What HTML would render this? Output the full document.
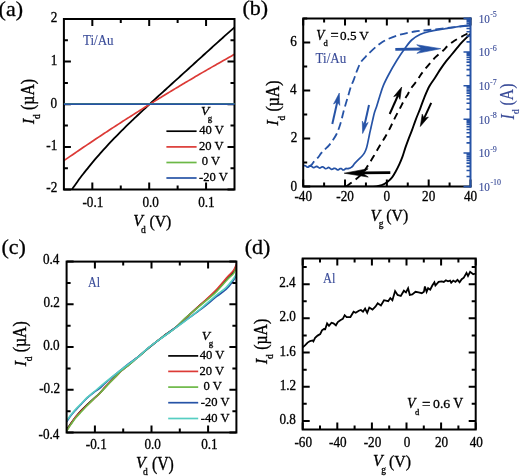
<!DOCTYPE html>
<html><head><meta charset="utf-8"><style>
html,body{margin:0;padding:0;background:#fff;overflow:hidden;}
svg{display:block;filter:blur(0.4px);}
text{font-family:'Liberation Serif','Times New Roman',serif;}
</style></head><body>
<svg width="520" height="476" viewBox="0 0 520 476">
<rect width="520" height="476" fill="#fff"/>
<defs>
<clipPath id="cA"><rect x="63.9" y="19" width="170.6" height="170.5"/></clipPath>
<clipPath id="cB"><rect x="303.2" y="18.4" width="167.3" height="168.2"/></clipPath>
<clipPath id="cC"><rect x="66.6" y="261.6" width="169.8" height="170.9"/></clipPath>
<clipPath id="cD"><rect x="302.7" y="258.5" width="173" height="171"/></clipPath>
</defs>
<path d="M71.71,189.72 C72.66,188.37 73.61,186.99 74.57,185.65 C75.52,184.31 76.47,182.99 77.42,181.68 C78.37,180.39 79.32,179.10 80.28,177.83 C81.23,176.56 82.18,175.31 83.14,174.07 C84.08,172.84 85.04,171.62 85.99,170.41 C86.94,169.21 87.89,168.02 88.85,166.84 C89.80,165.67 90.75,164.51 91.70,163.35 C92.65,162.21 93.60,161.07 94.56,159.95 C95.51,158.83 96.46,157.72 97.42,156.62 C98.36,155.52 99.32,154.44 100.27,153.36 C101.22,152.28 102.17,151.22 103.13,150.16 C104.08,149.11 105.03,148.07 105.98,147.03 C106.93,146.00 107.88,144.97 108.84,143.95 C109.79,142.94 110.74,141.93 111.69,140.93 C112.64,139.93 113.60,138.94 114.55,137.96 C115.50,136.97 116.45,136.00 117.41,135.03 C118.36,134.06 119.31,133.10 120.26,132.14 C121.21,131.19 122.17,130.24 123.12,129.29 C124.07,128.35 125.02,127.41 125.97,126.48 C126.93,125.55 127.88,124.62 128.83,123.69 C129.78,122.77 130.73,121.85 131.69,120.94 C132.64,120.03 133.59,119.12 134.54,118.21 C135.49,117.31 136.45,116.41 137.40,115.51 C138.35,114.61 139.30,113.71 140.25,112.82 C141.21,111.93 142.16,111.04 143.11,110.15 C144.06,109.27 145.01,108.38 145.97,107.50 C146.92,106.62 147.87,105.74 148.82,104.86 C149.77,103.99 150.73,103.11 151.68,102.24 C152.63,101.36 153.58,100.49 154.53,99.62 C155.49,98.75 156.44,97.88 157.39,97.01 C158.34,96.14 159.29,95.27 160.25,94.41 C161.20,93.54 162.15,92.67 163.10,91.81 C164.05,90.94 165.01,90.08 165.96,89.21 C166.91,88.35 167.86,87.48 168.81,86.62 C169.77,85.76 170.72,84.89 171.67,84.03 C172.62,83.17 173.57,82.30 174.53,81.44 C175.48,80.58 176.43,79.71 177.38,78.85 C178.33,77.99 179.29,77.12 180.24,76.26 C181.19,75.39 182.14,74.53 183.09,73.67 C184.05,72.80 185.00,71.94 185.95,71.07 C186.90,70.21 187.85,69.35 188.81,68.48 C189.76,67.62 190.71,66.75 191.66,65.89 C192.61,65.02 193.56,64.16 194.52,63.29 C195.47,62.43 196.42,61.56 197.37,60.70 C198.32,59.83 199.28,58.97 200.23,58.10 C201.18,57.24 202.13,56.37 203.08,55.51 C204.04,54.64 204.99,53.78 205.94,52.91 C206.89,52.05 207.84,51.19 208.80,50.32 C209.75,49.46 210.70,48.60 211.65,47.74 C212.60,46.88 213.56,46.02 214.51,45.16 C215.46,44.30 216.41,43.44 217.36,42.58 C218.32,41.72 219.27,40.87 220.22,40.02 C221.17,39.16 222.12,38.31 223.08,37.46 C224.03,36.61 224.98,35.76 225.93,34.91 C226.88,34.07 227.84,33.23 228.79,32.38 C229.74,31.54 230.69,30.70 231.64,29.87 C232.60,29.03 233.55,28.20 234.50,27.37" fill="none" stroke="#000" stroke-width="1.8" clip-path="url(#cA)"/>
<path d="M63.90,160.64 C64.86,159.97 65.83,159.31 66.79,158.65 C67.76,157.98 68.72,157.32 69.68,156.66 C70.65,156.00 71.61,155.34 72.57,154.68 C73.54,154.02 74.50,153.36 75.47,152.70 C76.43,152.04 77.39,151.39 78.36,150.73 C79.32,150.08 80.29,149.43 81.25,148.77 C82.21,148.12 83.18,147.47 84.14,146.82 C85.10,146.17 86.07,145.52 87.03,144.87 C88.00,144.22 88.96,143.57 89.92,142.93 C90.89,142.28 91.85,141.64 92.82,140.99 C93.78,140.35 94.74,139.71 95.71,139.07 C96.67,138.42 97.63,137.78 98.60,137.14 C99.56,136.51 100.53,135.87 101.49,135.23 C102.45,134.59 103.42,133.96 104.38,133.32 C105.34,132.69 106.31,132.05 107.27,131.42 C108.24,130.79 109.20,130.16 110.16,129.52 C111.13,128.89 112.09,128.27 113.06,127.64 C114.02,127.01 114.98,126.38 115.95,125.75 C116.91,125.13 117.87,124.50 118.84,123.88 C119.80,123.26 120.77,122.63 121.73,122.01 C122.69,121.39 123.66,120.77 124.62,120.15 C125.59,119.53 126.55,118.91 127.51,118.29 C128.48,117.68 129.44,117.06 130.41,116.45 C131.37,115.83 132.33,115.22 133.30,114.60 C134.26,113.99 135.22,113.38 136.19,112.77 C137.15,112.16 138.12,111.55 139.08,110.94 C140.04,110.33 141.01,109.72 141.97,109.12 C142.93,108.51 143.90,107.91 144.86,107.30 C145.83,106.70 146.79,106.10 147.75,105.49 C148.72,104.89 149.68,104.29 150.65,103.69 C151.61,103.09 152.57,102.49 153.54,101.90 C154.50,101.30 155.46,100.70 156.43,100.11 C157.39,99.51 158.36,98.92 159.32,98.32 C160.28,97.73 161.25,97.14 162.21,96.55 C163.18,95.96 164.14,95.37 165.10,94.78 C166.07,94.19 167.03,93.60 167.99,93.02 C168.96,92.43 169.92,91.85 170.89,91.26 C171.85,90.68 172.81,90.09 173.78,89.51 C174.74,88.93 175.71,88.35 176.67,87.77 C177.63,87.19 178.60,86.61 179.56,86.03 C180.52,85.46 181.49,84.88 182.45,84.30 C183.42,83.73 184.38,83.16 185.34,82.58 C186.31,82.01 187.27,81.44 188.24,80.87 C189.20,80.30 190.16,79.73 191.13,79.16 C192.09,78.59 193.05,78.02 194.02,77.45 C194.98,76.89 195.95,76.32 196.91,75.76 C197.87,75.19 198.84,74.63 199.80,74.07 C200.77,73.51 201.73,72.95 202.69,72.39 C203.66,71.83 204.62,71.27 205.58,70.71 C206.55,70.15 207.51,69.60 208.48,69.04 C209.44,68.48 210.40,67.93 211.37,67.38 C212.33,66.82 213.30,66.27 214.26,65.72 C215.22,65.17 216.19,64.62 217.15,64.07 C218.11,63.52 219.08,62.97 220.04,62.43 C221.01,61.88 221.97,61.34 222.93,60.79 C223.90,60.25 224.86,59.70 225.83,59.16 C226.79,58.62 227.75,58.08 228.72,57.54 C229.68,57.00 230.64,56.46 231.61,55.92 C232.57,55.38 233.54,54.85 234.50,54.31" fill="none" stroke="#dc3a36" stroke-width="1.7" clip-path="url(#cA)"/>
<rect x="63.9" y="19" width="170.6" height="170.5" fill="none" stroke="#000" stroke-width="2.0"/>
<path d="M92.33,189.5v-7.0M92.33,19v7.0M149.2,189.5v-7.0M149.2,19v7.0M206.07,189.5v-7.0M206.07,19v7.0M120.77,189.5v-4.0M120.77,19v4.0M177.63,189.5v-4.0M177.63,19v4.0" stroke="#000" stroke-width="2.0" fill="none"/>
<path d="M63.9,189.5h7.0M234.5,189.5h-7.0M63.9,146.88h7.0M234.5,146.88h-7.0M63.9,104.25h7.0M234.5,104.25h-7.0M63.9,61.62h7.0M234.5,61.62h-7.0M63.9,19h7.0M234.5,19h-7.0M63.9,168.19h4.0M234.5,168.19h-4.0M63.9,125.56h4.0M234.5,125.56h-4.0M63.9,82.94h4.0M234.5,82.94h-4.0M63.9,40.31h4.0M234.5,40.31h-4.0" stroke="#000" stroke-width="2.0" fill="none"/>
<path d="M63.9,103.55 L234.5,103.55" fill="none" stroke="#6cb846" stroke-width="1.3" stroke-linejoin="round"/>
<path d="M63.9,104.15 L234.5,104.15" fill="none" stroke="#2653a6" stroke-width="1.7" stroke-linejoin="round"/>
<path d="M166.4,131.2 L196.6,131.2" fill="none" stroke="#000" stroke-width="1.7" stroke-linejoin="round"/>
<path d="M166.4,146.9 L196.6,146.9" fill="none" stroke="#dc3a36" stroke-width="1.7" stroke-linejoin="round"/>
<path d="M166.4,162.5 L196.6,162.5" fill="none" stroke="#6cb846" stroke-width="1.7" stroke-linejoin="round"/>
<path d="M166.4,178 L196.6,178" fill="none" stroke="#2653a6" stroke-width="1.7" stroke-linejoin="round"/>
<path d="M66.60,429.54 C68.07,427.44 69.49,425.34 71.00,423.23 C72.55,421.08 74.08,418.90 75.80,416.77 C77.60,414.54 79.62,412.25 81.60,410.13 C83.52,408.07 85.51,406.12 87.50,404.22 C89.45,402.35 91.43,400.59 93.40,398.81 C95.36,397.04 97.36,395.48 99.30,393.57 C101.40,391.50 103.14,389.29 105.50,386.79 C108.52,383.59 113.09,379.00 116.00,376.01 C118.07,373.89 119.47,372.16 121.30,370.57 C122.98,369.11 124.49,368.31 126.50,366.74 C129.42,364.44 133.38,361.00 137.00,357.95 C140.90,354.67 144.85,351.20 149.10,347.68 C153.74,343.85 159.18,339.33 163.80,335.85 C167.74,332.89 171.41,330.87 175.00,327.96 C178.69,324.98 181.72,321.70 185.60,318.16 C190.27,313.89 195.91,308.77 201.10,304.16 C206.27,299.56 212.10,295.07 216.70,290.51 C220.77,286.47 224.39,281.89 227.50,278.37 C229.89,275.67 232.24,273.60 233.80,271.20 C235.11,269.20 235.67,267.18 236.60,265.17" fill="none" stroke="#000" stroke-width="1.6" stroke-linejoin="round" clip-path="url(#cC)"/>
<path d="M66.60,430.72 C68.07,428.43 69.49,426.15 71.00,423.86 C72.55,421.51 74.04,419.01 75.80,416.78 C77.57,414.55 79.62,412.47 81.60,410.46 C83.53,408.50 85.53,406.70 87.50,404.85 C89.46,403.00 91.43,401.17 93.40,399.34 C95.37,397.50 97.36,395.86 99.30,393.85 C101.40,391.67 103.10,389.21 105.50,386.66 C108.48,383.50 113.11,379.36 116.00,376.47 C118.08,374.39 119.50,372.72 121.30,371.03 C123.01,369.42 124.46,368.29 126.50,366.56 C129.38,364.11 133.38,360.82 137.00,357.76 C140.90,354.47 144.83,350.92 149.10,347.45 C153.72,343.71 159.20,339.53 163.80,336.13 C167.76,333.19 171.41,331.08 175.00,328.16 C178.68,325.16 181.73,321.91 185.60,318.35 C190.27,314.06 195.95,309.01 201.10,304.21 C206.32,299.34 212.08,294.17 216.70,289.31 C220.74,285.06 224.36,280.35 227.50,276.82 C229.86,274.17 232.24,272.32 233.80,269.95 C235.13,267.91 235.67,265.77 236.60,263.68" fill="none" stroke="#dc3a36" stroke-width="1.6" stroke-linejoin="round" clip-path="url(#cC)"/>
<path d="M66.60,431.12 C68.07,428.88 69.48,426.62 71.00,424.41 C72.54,422.17 74.05,419.89 75.80,417.76 C77.58,415.59 79.65,413.58 81.60,411.50 C83.55,409.42 85.52,407.32 87.50,405.28 C89.45,403.27 91.42,401.29 93.40,399.36 C95.35,397.46 97.33,395.74 99.30,393.79 C101.37,391.75 103.16,389.78 105.50,387.34 C108.54,384.17 113.09,379.42 116.00,376.38 C118.07,374.22 119.48,372.47 121.30,370.84 C122.99,369.33 124.49,368.47 126.50,366.85 C129.41,364.50 133.38,361.04 137.00,357.98 C140.89,354.69 144.84,351.21 149.10,347.74 C153.73,343.96 159.20,339.65 163.80,336.18 C167.75,333.20 171.42,331.10 175.00,328.10 C178.70,324.98 181.65,321.31 185.60,317.76 C190.20,313.61 195.95,309.27 201.10,304.90 C206.32,300.47 212.10,295.89 216.70,291.37 C220.77,287.37 224.34,282.65 227.50,279.34 C229.84,276.88 232.25,275.32 233.80,273.11 C235.14,271.21 235.67,269.12 236.60,267.12" fill="none" stroke="#6cb846" stroke-width="1.6" stroke-linejoin="round" clip-path="url(#cC)"/>
<path d="M66.60,421.92 C67.73,420.21 68.66,418.58 70.00,416.79 C71.62,414.62 73.84,412.14 75.80,409.93 C77.71,407.79 79.65,405.77 81.60,403.71 C83.55,401.65 85.48,399.45 87.50,397.59 C89.42,395.82 91.41,394.28 93.40,392.76 C95.34,391.28 97.36,390.13 99.30,388.56 C101.39,386.88 103.15,385.00 105.50,382.92 C108.53,380.24 112.48,376.84 116.00,373.89 C119.48,370.97 122.96,368.04 126.50,365.31 C129.96,362.63 133.43,360.44 137.00,357.63 C140.95,354.51 144.82,350.77 149.10,347.34 C153.71,343.65 159.21,339.64 163.80,336.27 C167.77,333.35 171.33,330.91 175.00,328.22 C178.59,325.59 181.72,323.15 185.60,320.30 C190.26,316.88 195.98,313.08 201.10,309.16 C206.35,305.14 212.14,300.05 216.70,296.46 C220.17,293.72 223.32,291.88 226.00,289.37 C228.41,287.10 230.56,284.45 232.20,282.21 C233.50,280.43 234.53,278.66 235.30,277.15 C235.88,276.02 236.17,275.10 236.60,274.07" fill="none" stroke="#2653a6" stroke-width="1.6" stroke-linejoin="round" clip-path="url(#cC)"/>
<path d="M66.60,420.89 C67.73,419.26 68.67,417.74 70.00,416.01 C71.64,413.87 73.82,411.28 75.80,409.11 C77.69,407.05 79.66,405.25 81.60,403.29 C83.56,401.29 85.48,399.07 87.50,397.21 C89.42,395.46 91.44,394.05 93.40,392.41 C95.38,390.76 97.30,389.04 99.30,387.36 C101.33,385.64 103.16,384.14 105.50,382.23 C108.53,379.76 112.49,376.57 116.00,373.79 C119.49,371.03 122.98,368.27 126.50,365.60 C129.98,362.97 133.44,360.75 137.00,357.88 C140.96,354.69 144.79,350.69 149.10,347.23 C153.68,343.55 159.23,339.81 163.80,336.48 C167.79,333.57 171.32,331.01 175.00,328.32 C178.58,325.70 181.76,323.45 185.60,320.53 C190.30,316.96 195.98,312.62 201.10,308.40 C206.35,304.07 212.12,298.62 216.70,294.85 C220.16,292.01 223.33,290.17 226.00,287.61 C228.41,285.29 230.52,282.43 232.20,280.29 C233.45,278.70 234.54,277.39 235.30,276.00 C235.92,274.87 236.17,273.79 236.60,272.69" fill="none" stroke="#56cec2" stroke-width="1.6" stroke-linejoin="round" clip-path="url(#cC)"/>
<rect x="66.6" y="261.6" width="169.8" height="170.9" fill="none" stroke="#000" stroke-width="2.0"/>
<path d="M94.9,432.5v-7.0M94.9,261.6v7.0M151.5,432.5v-7.0M151.5,261.6v7.0M208.1,432.5v-7.0M208.1,261.6v7.0M123.2,432.5v-4.0M123.2,261.6v4.0M179.8,432.5v-4.0M179.8,261.6v4.0" stroke="#000" stroke-width="2.0" fill="none"/>
<path d="M66.6,432.5h7.0M236.4,432.5h-7.0M66.6,389.77h7.0M236.4,389.77h-7.0M66.6,347.05h7.0M236.4,347.05h-7.0M66.6,304.32h7.0M236.4,304.32h-7.0M66.6,261.6h7.0M236.4,261.6h-7.0M66.6,411.14h4.0M236.4,411.14h-4.0M66.6,368.41h4.0M236.4,368.41h-4.0M66.6,325.69h4.0M236.4,325.69h-4.0M66.6,282.96h4.0M236.4,282.96h-4.0" stroke="#000" stroke-width="2.0" fill="none"/>
<path d="M168.2,355.9 L198.2,355.9" fill="none" stroke="#000" stroke-width="1.7" stroke-linejoin="round"/>
<path d="M168.2,371.4 L198.2,371.4" fill="none" stroke="#dc3a36" stroke-width="1.7" stroke-linejoin="round"/>
<path d="M168.2,387.1 L198.2,387.1" fill="none" stroke="#6cb846" stroke-width="1.7" stroke-linejoin="round"/>
<path d="M168.2,402.7 L198.2,402.7" fill="none" stroke="#2653a6" stroke-width="1.7" stroke-linejoin="round"/>
<path d="M168.2,418.5 L198.2,418.5" fill="none" stroke="#56cec2" stroke-width="1.7" stroke-linejoin="round"/>
<path d="M302.7,347.3 L305,345.4 L307.6,342.6 L310.1,341 L312.6,340.4 L313.4,341.4 L315.1,337.9 L317.6,335.6 L320.2,334.1 L322,330.3 L323.9,329 L325.2,329.3 L327.1,323.4 L329,325.9 L331.5,322.7 L333.4,323.4 L335.9,325.3 L337.8,322.1 L340.3,320.2 L342.8,318.9 L344.7,315.2 L346.6,317.1 L350.4,317 L353.6,311.7 L355.7,312.8 L358.8,310.7 L360.9,310 L363,311.7 L365.1,308.6 L367.2,312.8 L369.3,307.5 L372.5,309.6 L375.6,306.5 L377.7,303.3 L380.9,305.4 L384,300.2 L388.2,301.2 L390.3,298.1 L392.4,300.2 L395.1,291.1 L397.6,294.9 L400.8,296 L403.9,290.7 L406,292.4 L408.1,288.2 L409.8,294.9 L412.3,294.5 L415.5,291.8 L418.6,292.4 L421.8,293.2 L423.9,291.8 L424.9,286.5 L426.6,291.8 L428.1,288.2 L430.2,289.7 L432.3,285.5 L434.4,282.3 L435.4,285.5 L438.6,281.9 L441.7,281.3 L443.8,281.9 L445.9,280.2 L448,281.3 L450.1,280.6 L451.2,282.7 L453.3,280.6 L455.4,281.9 L457.5,279.8 L459.6,282.3 L461.7,279.2 L463.8,277.7 L466.5,272.9 L468,276 L470.1,271.8 L473.2,274.3 L475.7,273.5" fill="none" stroke="#000" stroke-width="1.8" stroke-linejoin="miter" stroke-miterlimit="3" clip-path="url(#cD)"/>
<rect x="302.7" y="258.5" width="173" height="171" fill="none" stroke="#000" stroke-width="2.0"/>
<path d="M302.7,429.5v-7.0M302.7,258.5v7.0M337.3,429.5v-7.0M337.3,258.5v7.0M371.9,429.5v-7.0M371.9,258.5v7.0M406.5,429.5v-7.0M406.5,258.5v7.0M441.1,429.5v-7.0M441.1,258.5v7.0M475.7,429.5v-7.0M475.7,258.5v7.0M320,429.5v-4.0M320,258.5v4.0M354.6,429.5v-4.0M354.6,258.5v4.0M389.2,429.5v-4.0M389.2,258.5v4.0M423.8,429.5v-4.0M423.8,258.5v4.0M458.4,429.5v-4.0M458.4,258.5v4.0" stroke="#000" stroke-width="2.0" fill="none"/>
<path d="M302.7,420.95h7.0M475.7,420.95h-7.0M302.7,386.75h7.0M475.7,386.75h-7.0M302.7,352.55h7.0M475.7,352.55h-7.0M302.7,318.35h7.0M475.7,318.35h-7.0M302.7,284.15h7.0M475.7,284.15h-7.0M302.7,403.85h4.0M475.7,403.85h-4.0M302.7,369.65h4.0M475.7,369.65h-4.0M302.7,335.45h4.0M475.7,335.45h-4.0M302.7,301.25h4.0M475.7,301.25h-4.0M302.7,267.05h4.0M475.7,267.05h-4.0" stroke="#000" stroke-width="2.0" fill="none"/>
<path d="M303.2,166.17 L303.95,165.65 L304.7,165.6 L305.45,165.73 L306.2,166.42 L306.95,166.95 L307.7,167.15 L308.45,167.08 L309.2,166.49 L309.95,166.1 L310.7,165.85 L311.45,166.12 L312.2,166.78 L312.95,167.45 L313.7,167.55 L314.45,167.4 L315.2,167.02 L315.95,166.62 L316.7,166.35 L317.45,166.58 L318.2,167.3 L318.95,167.65 L319.7,168.12 L320.45,167.83 L321.2,167.35 L321.95,166.9 L322.7,166.81 L323.45,167.24 L324.2,167.7 L324.95,168.41 L325.7,168.73 L326.45,168.53 L327.2,168.13 L327.95,167.57 L328.7,167.43 L329.45,167.77 L330.2,168.5 L330.95,169.05 L331.7,169.33 L332.45,169.26 L333.2,168.78 L333.95,168.3 L334.7,168.29 L335.45,168.54 L336.2,169 L336.95,169.65 L337.7,169.89 L338.45,169.79 L339.2,169.27 L339.95,168.67 L340.7,168.65 L341.45,168.7 L342.2,169.34 L342.95,169.99 L343.7,169.95 L344.45,169.7 L345.2,168.94 L345.95,168.44 L346.7,168.57 L347.45,168.49 L348.2,168.61 L348.95,168.39 L349.7,168.27 L350.45,167.85 L351.2,167.34 L351.20,167.34 C351.63,166.99 352.04,166.77 352.50,166.30 C353.18,165.60 353.83,164.39 354.70,163.40 C355.74,162.21 357.17,160.93 358.40,159.70 C359.63,158.47 361.06,157.19 362.10,156.00 C362.97,155.01 363.63,154.26 364.30,153.10 C365.13,151.66 365.90,149.71 366.50,147.90 C367.11,146.04 367.44,144.16 367.90,142.10 C368.41,139.79 368.88,137.15 369.40,134.70 C369.91,132.28 370.45,129.96 371.00,127.50 C371.58,124.90 372.20,122.08 372.80,119.50 C373.36,117.09 373.83,114.76 374.50,112.50 C375.14,110.33 375.94,108.52 376.70,106.20 C377.63,103.37 378.54,100.00 379.60,96.70 C380.76,93.09 381.87,89.12 383.40,85.40 C384.98,81.56 386.92,77.90 389.00,74.00 C391.28,69.72 394.01,64.99 396.60,60.80 C399.05,56.85 401.51,53.05 404.10,49.50 C406.55,46.14 408.89,42.57 411.70,40.00 C414.24,37.68 417.04,35.92 420.00,34.50 C422.94,33.09 425.89,32.36 429.40,31.50 C433.70,30.45 439.37,29.78 444.00,29.00 C448.20,28.29 451.81,27.64 456.00,27.00 C460.60,26.30 465.67,25.67 470.50,25.00" fill="none" stroke="#2653a6" stroke-width="1.7" stroke-linejoin="round" clip-path="url(#cB)"/>
<path d="M308.50,166.50 C309.43,166.00 310.45,165.71 311.30,165.00 C312.28,164.18 312.91,162.81 313.90,161.70 C315.01,160.45 316.49,159.30 317.70,157.90 C319.00,156.39 320.10,154.41 321.40,152.90 C322.61,151.50 323.93,150.37 325.20,149.10 C326.47,147.83 327.78,146.70 329.00,145.30 C330.32,143.79 331.58,142.10 332.80,140.30 C334.12,138.35 335.54,136.14 336.60,134.00 C337.62,131.94 338.31,129.96 339.10,127.70 C339.99,125.16 340.84,122.28 341.60,119.50 C342.37,116.68 342.95,113.70 343.70,110.90 C344.42,108.20 345.22,105.63 346.00,103.00 C346.78,100.36 347.62,97.74 348.40,95.10 C349.18,92.47 349.79,89.80 350.70,87.20 C351.62,84.57 352.87,82.08 353.90,79.40 C354.98,76.59 355.83,73.57 357.00,70.70 C358.19,67.77 359.27,64.63 361.00,62.00 C362.71,59.40 365.01,57.36 367.30,55.00 C369.83,52.40 372.95,49.34 375.60,47.10 C377.81,45.23 379.83,43.70 382.00,42.30 C384.04,40.99 385.75,40.00 388.20,38.90 C391.46,37.44 395.81,35.90 400.00,34.70 C404.59,33.39 409.81,32.29 414.70,31.50 C419.48,30.73 423.67,30.57 429.00,30.00 C435.76,29.28 444.75,28.29 452.00,27.50 C458.50,26.80 464.33,26.17 470.50,25.50" fill="none" stroke="#2653a6" stroke-width="1.8" stroke-linejoin="round" stroke-dasharray="8,4" clip-path="url(#cB)"/>
<path d="M345.90,186.60 C348.83,184.50 351.95,182.50 354.70,180.30 C357.33,178.19 359.90,176.15 362.10,173.70 C364.30,171.25 366.01,168.45 367.90,165.60 C369.91,162.57 371.86,159.27 373.80,156.00 C375.79,152.64 377.70,149.05 379.70,145.70 C381.64,142.45 383.74,139.41 385.60,136.20 C387.44,133.01 389.37,129.36 390.80,126.50 C391.91,124.28 392.57,122.59 393.60,120.50 C394.75,118.15 396.17,115.44 397.40,113.10 C398.53,110.96 399.62,109.06 400.70,107.00 C401.79,104.92 402.73,102.82 403.90,100.70 C405.15,98.45 406.71,96.12 408.00,93.90 C409.21,91.82 410.03,89.84 411.40,87.80 C412.94,85.51 415.34,83.10 416.90,80.90 C418.23,79.03 419.08,77.28 420.30,75.50 C421.57,73.65 422.88,71.93 424.40,70.00 C426.16,67.76 428.37,65.13 430.30,62.90 C432.07,60.85 433.54,59.01 435.50,57.10 C437.69,54.97 440.69,52.86 442.90,50.80 C444.83,49.00 446.21,47.15 448.10,45.50 C450.04,43.81 452.25,42.22 454.40,40.80 C456.49,39.43 458.43,38.41 460.80,37.10 C463.68,35.51 467.27,33.70 470.50,32.00" fill="none" stroke="#000" stroke-width="1.9" stroke-linejoin="round" stroke-dasharray="7,5" clip-path="url(#cB)"/>
<path d="M303.20,186.60 C322.13,186.60 348.08,186.60 360.00,186.60 C365.48,186.60 369.10,186.67 372.00,186.60 C373.66,186.56 374.47,186.58 375.90,186.40 C377.67,186.18 379.90,185.93 381.80,185.20 C383.81,184.43 385.86,183.13 387.60,181.80 C389.28,180.52 390.77,179.07 392.10,177.40 C393.49,175.65 394.53,173.60 395.70,171.50 C396.97,169.20 398.27,166.58 399.40,164.10 C400.50,161.68 401.45,159.37 402.40,156.80 C403.43,154.00 404.28,150.85 405.30,147.90 C406.32,144.95 407.39,142.03 408.50,139.10 C409.62,136.13 410.86,133.26 412.00,130.20 C413.20,127.00 414.20,123.74 415.50,120.30 C416.94,116.48 418.78,112.22 420.30,108.30 C421.74,104.56 422.89,100.97 424.40,97.30 C425.95,93.53 427.57,89.47 429.50,86.00 C431.30,82.77 433.59,80.05 435.50,77.10 C437.35,74.25 439.00,71.30 440.80,68.60 C442.50,66.05 444.21,63.61 446.00,61.30 C447.72,59.09 449.55,57.10 451.30,55.00 C453.05,52.90 454.75,50.80 456.50,48.70 C458.25,46.60 459.99,44.37 461.80,42.40 C463.53,40.52 465.51,38.62 467.10,37.10 C468.34,35.91 469.37,35.03 470.50,34.00" fill="none" stroke="#000" stroke-width="1.9" stroke-linejoin="round" clip-path="url(#cB)"/>
<line x1="332.3" y1="124" x2="337.32" y2="101.78" stroke="#2653a6" stroke-width="2.0"/>
<path d="M339.3,93 L339.78,105.41 L337.32,101.78 L333.54,104 Z" fill="#2653a6" stroke="#2653a6" stroke-width="0.6" stroke-linejoin="miter"/>
<line x1="369" y1="105" x2="364.57" y2="124.72" stroke="#2653a6" stroke-width="2.0"/>
<path d="M362.6,133.5 L362.3,121.13 L364.57,124.72 L368.16,122.45 Z" fill="#2653a6" stroke="#2653a6" stroke-width="0.6" stroke-linejoin="miter"/>
<line x1="395.3" y1="49.4" x2="422.8" y2="48.98" stroke="#2653a6" stroke-width="2.8"/>
<path d="M440.8,48.7 L416.87,53.37 L422.8,48.98 L416.74,44.77 Z" fill="#2653a6" stroke="#2653a6" stroke-width="0.6" stroke-linejoin="miter"/>
<line x1="390.3" y1="172.6" x2="362.2" y2="172.97" stroke="#000" stroke-width="2.8"/>
<path d="M344.2,173.2 L368.14,168.69 L362.2,172.97 L368.25,177.09 Z" fill="#000" stroke="#000" stroke-width="0.6" stroke-linejoin="miter"/>
<line x1="389.7" y1="114" x2="398.04" y2="95.22" stroke="#000" stroke-width="2.0"/>
<path d="M401.7,87 L399.93,99.35 L398.04,95.22 L393.72,96.58 Z" fill="#000" stroke="#000" stroke-width="0.6" stroke-linejoin="miter"/>
<line x1="431.2" y1="102.8" x2="424.06" y2="118.32" stroke="#000" stroke-width="2.0"/>
<path d="M420.3,126.5 L422.23,114.18 L424.06,118.32 L428.4,117.02 Z" fill="#000" stroke="#000" stroke-width="0.6" stroke-linejoin="miter"/>
<path d="M470.5,186.6 H303.2 V18.4 H470.5" fill="none" stroke="#000" stroke-width="2.0" stroke-linecap="square"/>
<path d="M303.2,186.6v-7.0M303.2,18.4v7.0M345.02,186.6v-7.0M345.02,18.4v7.0M386.85,186.6v-7.0M386.85,18.4v7.0M428.68,186.6v-7.0M428.68,18.4v7.0M470.5,186.6v-7.0M470.5,18.4v7.0M324.11,186.6v-4.0M324.11,18.4v4.0M365.94,186.6v-4.0M365.94,18.4v4.0M407.76,186.6v-4.0M407.76,18.4v4.0M449.59,186.6v-4.0M449.59,18.4v4.0" stroke="#000" stroke-width="2.0" fill="none"/>
<path d="M303.2,186.6h7.0M303.2,138.54h7.0M303.2,90.49h7.0M303.2,42.43h7.0M303.2,162.57h4.0M303.2,114.51h4.0M303.2,66.46h4.0M303.2,18.4h4.0" stroke="#000" stroke-width="2.0" fill="none"/>
<path d="M470.5,186.6h-7M470.5,176.47h-4M470.5,170.55h-4M470.5,166.35h-4M470.5,163.09h-4M470.5,160.42h-4M470.5,158.17h-4M470.5,156.22h-4M470.5,154.5h-4M470.5,152.96h-7M470.5,142.83h-4M470.5,136.91h-4M470.5,132.71h-4M470.5,129.45h-4M470.5,126.78h-4M470.5,124.53h-4M470.5,122.58h-4M470.5,120.86h-4M470.5,119.32h-7M470.5,109.19h-4M470.5,103.27h-4M470.5,99.07h-4M470.5,95.81h-4M470.5,93.14h-4M470.5,90.89h-4M470.5,88.94h-4M470.5,87.22h-4M470.5,85.68h-7M470.5,75.55h-4M470.5,69.63h-4M470.5,65.43h-4M470.5,62.17h-4M470.5,59.5h-4M470.5,57.25h-4M470.5,55.3h-4M470.5,53.58h-4M470.5,52.04h-7M470.5,41.91h-4M470.5,35.99h-4M470.5,31.79h-4M470.5,28.53h-4M470.5,25.86h-4M470.5,23.61h-4M470.5,21.66h-4M470.5,19.94h-4M470.5,18.4h-7" stroke="#2653a6" stroke-width="1.6" fill="none"/>
<line x1="470.5" y1="17.4" x2="470.5" y2="187.6" stroke="#2653a6" stroke-width="2.0"/>
<text transform="translate(-1.4,15.62)" font-size="22" fill="#000" stroke="#000" stroke-width="0.3">(a)</text>
<text transform="translate(242.38,15.12)" font-size="22" fill="#000" stroke="#000" stroke-width="0.3">(b)</text>
<text transform="translate(1.4,253.93)" font-size="22" fill="#000" stroke="#000" stroke-width="0.3">(c)</text>
<text transform="translate(244.68,254.08)" font-size="22" fill="#000" stroke="#000" stroke-width="0.3">(d)</text>
<text transform="translate(133.18,225.93) scale(1,1.057)" font-size="15.8" fill="#000" stroke="#000" stroke-width="0.3" font-style="italic">V</text>
<text transform="translate(141.03,233.05)" font-size="9.5" fill="#000" stroke="#000" stroke-width="0.3">d</text>
<text transform="translate(149.45,226.5) scale(1,1.121)" font-size="15.8" fill="#000" stroke="#000" stroke-width="0.3">(V)</text>
<text transform="translate(370.57,220.62) scale(1,1.076)" font-size="15.8" fill="#000" stroke="#000" stroke-width="0.3" font-style="italic">V</text>
<text transform="translate(378.85,227.32)" font-size="9.5" fill="#000" stroke="#000" stroke-width="0.3">g</text>
<text transform="translate(386.35,221.12) scale(1,1.086)" font-size="15.8" fill="#000" stroke="#000" stroke-width="0.3">(V)</text>
<text transform="translate(135.9,468.18) scale(1,1.019)" font-size="15.8" fill="#000" stroke="#000" stroke-width="0.3" font-style="italic">V</text>
<text transform="translate(143.12,475.15)" font-size="9.5" fill="#000" stroke="#000" stroke-width="0.3">d</text>
<text transform="translate(151.95,469.98) scale(1,1.143)" font-size="15.8" fill="#000" stroke="#000" stroke-width="0.3">(V)</text>
<text transform="translate(372.88,465.93) scale(1,1.029)" font-size="15.8" fill="#000" stroke="#000" stroke-width="0.3" font-style="italic">V</text>
<text transform="translate(381.15,472.52)" font-size="9.5" fill="#000" stroke="#000" stroke-width="0.3">g</text>
<text transform="translate(389.05,466.8) scale(1,1.093)" font-size="15.8" fill="#000" stroke="#000" stroke-width="0.3">(V)</text>
<text transform="translate(33.5,123.88) rotate(-90) scale(1,1.122)" font-size="15.8" fill="#000" stroke="#000" stroke-width="0.3" font-style="italic">I</text>
<text transform="translate(39.7,118.92) rotate(-90)" font-size="9.5" fill="#000" stroke="#000" stroke-width="0.3">d</text>
<text transform="translate(33.6,109.95) rotate(-90) scale(1,1.136)" font-size="15.8" fill="#000" stroke="#000" stroke-width="0.3">(µA)</text>
<text transform="translate(278.4,125.57) rotate(-90) scale(1,1.122)" font-size="15.8" fill="#000" stroke="#000" stroke-width="0.3" font-style="italic">I</text>
<text transform="translate(284.6,120.62) rotate(-90)" font-size="9.5" fill="#000" stroke="#000" stroke-width="0.3">d</text>
<text transform="translate(278.5,111.55) rotate(-90) scale(1,1.136)" font-size="15.8" fill="#000" stroke="#000" stroke-width="0.3">(µA)</text>
<text transform="translate(25.9,366.27) rotate(-90) scale(1,1.122)" font-size="15.8" fill="#000" stroke="#000" stroke-width="0.3" font-style="italic">I</text>
<text transform="translate(32.1,361.33) rotate(-90)" font-size="9.5" fill="#000" stroke="#000" stroke-width="0.3">d</text>
<text transform="translate(26,352.25) rotate(-90) scale(1,1.136)" font-size="15.8" fill="#000" stroke="#000" stroke-width="0.3">(µA)</text>
<text transform="translate(266.7,363.98) rotate(-90) scale(1,1.122)" font-size="15.8" fill="#000" stroke="#000" stroke-width="0.3" font-style="italic">I</text>
<text transform="translate(272.9,359.02) rotate(-90)" font-size="9.5" fill="#000" stroke="#000" stroke-width="0.3">d</text>
<text transform="translate(266.8,349.85) rotate(-90) scale(1,1.136)" font-size="15.8" fill="#000" stroke="#000" stroke-width="0.3">(µA)</text>
<text transform="translate(513.75,119.53) rotate(-90) scale(1,1.161)" font-size="15.8" fill="#394b98" stroke="#394b98" stroke-width="0.12" font-style="italic">I</text>
<text transform="translate(519.1,114.12) rotate(-90)" font-size="9.5" fill="#394b98" stroke="#394b98" stroke-width="0.12">d</text>
<text transform="translate(513.3,105.5) rotate(-90) scale(1,1.136)" font-size="15.8" fill="#394b98" stroke="#394b98" stroke-width="0.12">(A)</text>
<text transform="translate(50.75,22.25) scale(1,1.080)" font-size="13.2" fill="#000" stroke="#000" stroke-width="0.3">2</text>
<text transform="translate(50.75,64.75) scale(1,1.080)" font-size="13.2" fill="#000" stroke="#000" stroke-width="0.3">1</text>
<text transform="translate(50.5,107.5) scale(1,1.080)" font-size="13.2" fill="#000" stroke="#000" stroke-width="0.3">0</text>
<text transform="translate(46.25,150) scale(1,1.080)" font-size="13.2" fill="#000" stroke="#000" stroke-width="0.3">-1</text>
<text transform="translate(46.35,192.1) scale(1,1.080)" font-size="13.2" fill="#000" stroke="#000" stroke-width="0.3">-2</text>
<text transform="translate(82.45,206.57) scale(1,1.080)" font-size="13.2" fill="#000" stroke="#000" stroke-width="0.3">-0.1</text>
<text transform="translate(142.45,206.57) scale(1,1.080)" font-size="13.2" fill="#000" stroke="#000" stroke-width="0.3">0.0</text>
<text transform="translate(198.18,206.57) scale(1,1.080)" font-size="13.2" fill="#000" stroke="#000" stroke-width="0.3">0.1</text>
<text transform="translate(290.35,45.68) scale(1,1.080)" font-size="13.2" fill="#000" stroke="#000" stroke-width="0.3">6</text>
<text transform="translate(290.1,93.61) scale(1,1.080)" font-size="13.2" fill="#000" stroke="#000" stroke-width="0.3">4</text>
<text transform="translate(290.85,141.79) scale(1,1.080)" font-size="13.2" fill="#000" stroke="#000" stroke-width="0.3">2</text>
<text transform="translate(290.6,190.7) scale(1,1.080)" font-size="13.2" fill="#000" stroke="#000" stroke-width="0.3">0</text>
<text transform="translate(294.45,201.4) scale(1,1.080)" font-size="13.2" fill="#000" stroke="#000" stroke-width="0.3">-40</text>
<text transform="translate(336.27,201.4) scale(1,1.080)" font-size="13.2" fill="#000" stroke="#000" stroke-width="0.3">-20</text>
<text transform="translate(383.6,201.4) scale(1,1.080)" font-size="13.2" fill="#000" stroke="#000" stroke-width="0.3">0</text>
<text transform="translate(422.05,201.4) scale(1,1.080)" font-size="13.2" fill="#000" stroke="#000" stroke-width="0.3">20</text>
<text transform="translate(464,201.4) scale(1,1.080)" font-size="13.2" fill="#000" stroke="#000" stroke-width="0.3">40</text>
<text transform="translate(43.45,307.45) scale(1,1.080)" font-size="13.2" fill="#000" stroke="#000" stroke-width="0.3">0.2</text>
<text transform="translate(43.2,350.18) scale(1,1.080)" font-size="13.2" fill="#000" stroke="#000" stroke-width="0.3">0.0</text>
<text transform="translate(39.2,392.9) scale(1,1.080)" font-size="13.2" fill="#000" stroke="#000" stroke-width="0.3">-0.2</text>
<text transform="translate(42.92,264.07) scale(1,1.080)" font-size="13.2" fill="#000" stroke="#000" stroke-width="0.3">0.4</text>
<text transform="translate(38.58,439.07) scale(1,1.080)" font-size="13.2" fill="#000" stroke="#000" stroke-width="0.3">-0.4</text>
<text transform="translate(85.85,449.05) scale(1,1.080)" font-size="13.2" fill="#000" stroke="#000" stroke-width="0.3">-0.1</text>
<text transform="translate(144.45,449.05) scale(1,1.080)" font-size="13.2" fill="#000" stroke="#000" stroke-width="0.3">0.0</text>
<text transform="translate(201.18,449.05) scale(1,1.080)" font-size="13.2" fill="#000" stroke="#000" stroke-width="0.3">0.1</text>
<text transform="translate(279.15,287.27) scale(1,1.080)" font-size="13.2" fill="#000" stroke="#000" stroke-width="0.3">2.4</text>
<text transform="translate(279.4,321.48) scale(1,1.080)" font-size="13.2" fill="#000" stroke="#000" stroke-width="0.3">2.0</text>
<text transform="translate(279.4,355.67) scale(1,1.080)" font-size="13.2" fill="#000" stroke="#000" stroke-width="0.3">1.6</text>
<text transform="translate(279.65,389.88) scale(1,1.080)" font-size="13.2" fill="#000" stroke="#000" stroke-width="0.3">1.2</text>
<text transform="translate(279.4,424.07) scale(1,1.080)" font-size="13.2" fill="#000" stroke="#000" stroke-width="0.3">0.8</text>
<text transform="translate(294.45,447) scale(1,1.080)" font-size="13.2" fill="#000" stroke="#000" stroke-width="0.3">-60</text>
<text transform="translate(329.05,447) scale(1,1.080)" font-size="13.2" fill="#000" stroke="#000" stroke-width="0.3">-40</text>
<text transform="translate(363.65,447) scale(1,1.080)" font-size="13.2" fill="#000" stroke="#000" stroke-width="0.3">-20</text>
<text transform="translate(403.75,447) scale(1,1.080)" font-size="13.2" fill="#000" stroke="#000" stroke-width="0.3">0</text>
<text transform="translate(434.98,447) scale(1,1.080)" font-size="13.2" fill="#000" stroke="#000" stroke-width="0.3">20</text>
<text transform="translate(469.7,447) scale(1,1.080)" font-size="13.2" fill="#000" stroke="#000" stroke-width="0.3">40</text>
<text transform="translate(478.77,190.85) scale(1,1.147)" font-size="11.2" fill="#394b98" stroke="#394b98" stroke-width="0.12">10</text>
<text transform="translate(490.4,185.42)" font-size="8" fill="#394b98" stroke="#394b98" stroke-width="0.12">-10</text>
<text transform="translate(478.77,157.21) scale(1,1.147)" font-size="11.2" fill="#394b98" stroke="#394b98" stroke-width="0.12">10</text>
<text transform="translate(490.15,151.78)" font-size="8" fill="#394b98" stroke="#394b98" stroke-width="0.12">-9</text>
<text transform="translate(478.77,123.57) scale(1,1.147)" font-size="11.2" fill="#394b98" stroke="#394b98" stroke-width="0.12">10</text>
<text transform="translate(490.15,118.14)" font-size="8" fill="#394b98" stroke="#394b98" stroke-width="0.12">-8</text>
<text transform="translate(478.77,89.93) scale(1,1.147)" font-size="11.2" fill="#394b98" stroke="#394b98" stroke-width="0.12">10</text>
<text transform="translate(490.03,84.51)" font-size="8" fill="#394b98" stroke="#394b98" stroke-width="0.12">-7</text>
<text transform="translate(478.77,56.29) scale(1,1.147)" font-size="11.2" fill="#394b98" stroke="#394b98" stroke-width="0.12">10</text>
<text transform="translate(490.03,50.86)" font-size="8" fill="#394b98" stroke="#394b98" stroke-width="0.12">-6</text>
<text transform="translate(478.77,22.65) scale(1,1.147)" font-size="11.2" fill="#394b98" stroke="#394b98" stroke-width="0.12">10</text>
<text transform="translate(490.15,17.23)" font-size="8" fill="#394b98" stroke="#394b98" stroke-width="0.12">-5</text>
<text transform="translate(83,44.67) scale(1,1.129)" font-size="13" fill="#394b98" stroke="#394b98" stroke-width="0.12">Ti/Au</text>
<text transform="translate(315.6,63) scale(1,1.176)" font-size="13" fill="#394b98" stroke="#394b98" stroke-width="0.12">Ti/Au</text>
<text transform="translate(88.12,286.9) scale(1,1.248)" font-size="12.05" fill="#394b98" stroke="#394b98" stroke-width="0.12">Al</text>
<text transform="translate(323.08,283.45) scale(1,1.165)" font-size="12.47" fill="#394b98" stroke="#394b98" stroke-width="0.12">Al</text>
<text transform="translate(316.35,40.3) scale(1,1.063)" font-size="13.2" fill="#000" stroke="#000" stroke-width="0.3" font-style="italic">V</text>
<text transform="translate(323.48,45.88)" font-size="8.5" fill="#000" stroke="#000" stroke-width="0.3">d</text>
<text transform="translate(330.38,40.4)" font-size="14.5" fill="#000" stroke="#000" stroke-width="0.3">=</text>
<text transform="translate(340.1,39.88) scale(1,0.967)" font-size="13.2" fill="#000" stroke="#000" stroke-width="0.3">0.5</text>
<text transform="translate(359.27,39.88) scale(1,0.994)" font-size="13.2" fill="#000" stroke="#000" stroke-width="0.3">V</text>
<text transform="translate(406.9,408.43)" font-size="13.8" fill="#000" stroke="#000" stroke-width="0.3" font-style="italic">V</text>
<text transform="translate(415.08,415.23)" font-size="8.5" fill="#000" stroke="#000" stroke-width="0.3">d</text>
<text transform="translate(421.9,409.4)" font-size="15" fill="#000" stroke="#000" stroke-width="0.3">=</text>
<text transform="translate(433.02,408.43) scale(1,0.979)" font-size="13.8" fill="#000" stroke="#000" stroke-width="0.3">0.6</text>
<text transform="translate(453.35,408.43)" font-size="13.8" fill="#000" stroke="#000" stroke-width="0.3">V</text>
<text transform="translate(200.98,114.95)" font-size="13.5" fill="#000" stroke="#000" stroke-width="0.3" font-style="italic">V</text>
<text transform="translate(207.68,120.8)" font-size="9" fill="#000" stroke="#000" stroke-width="0.3">g</text>
<text transform="translate(201.78,339.62) scale(1,0.956)" font-size="13.5" fill="#000" stroke="#000" stroke-width="0.3" font-style="italic">V</text>
<text transform="translate(208.72,345.6)" font-size="9" fill="#000" stroke="#000" stroke-width="0.3">g</text>
<text transform="translate(199.25,134.35)" font-size="12.6" fill="#000" stroke="#000" stroke-width="0.3">40 V</text>
<text transform="translate(199,149.85)" font-size="12.6" fill="#000" stroke="#000" stroke-width="0.3">20 V</text>
<text transform="translate(201.7,165.35)" font-size="12.6" fill="#000" stroke="#000" stroke-width="0.3">0 V</text>
<text transform="translate(199,180.85)" font-size="12.6" fill="#000" stroke="#000" stroke-width="0.3">-20 V</text>
<text transform="translate(199.75,358.95)" font-size="12.6" fill="#000" stroke="#000" stroke-width="0.3">40 V</text>
<text transform="translate(199.5,374.6)" font-size="12.6" fill="#000" stroke="#000" stroke-width="0.3">20 V</text>
<text transform="translate(203.6,390.25)" font-size="12.6" fill="#000" stroke="#000" stroke-width="0.3">0 V</text>
<text transform="translate(200.7,405.9)" font-size="12.6" fill="#000" stroke="#000" stroke-width="0.3">-20 V</text>
<text transform="translate(200.7,421.55)" font-size="12.6" fill="#000" stroke="#000" stroke-width="0.3">-40 V</text>
</svg>
</body></html>
